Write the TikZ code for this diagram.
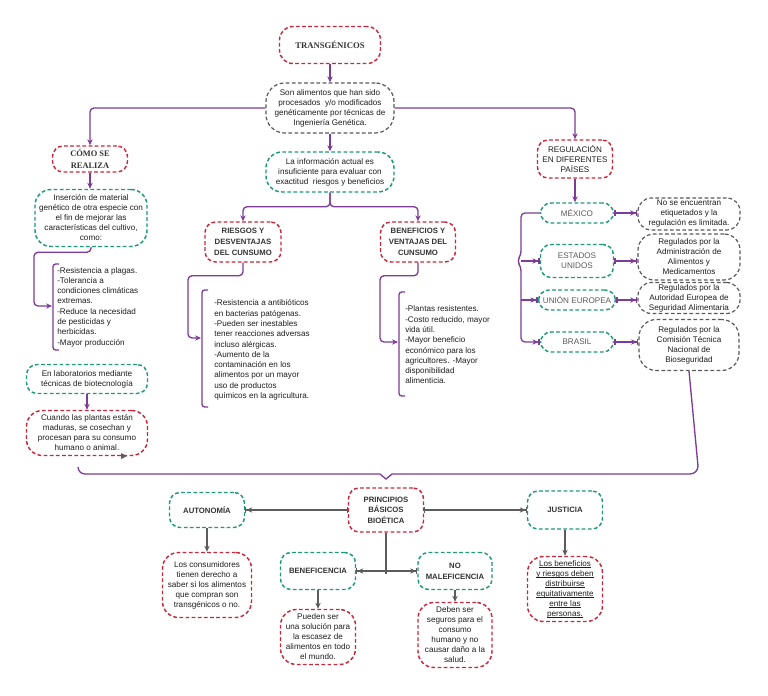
\documentclass[tikz,border=0pt]{standalone}
\usepackage{fontspec}
\setmainfont{Liberation Sans}
\newfontfamily\serifb{Liberation Serif}
\usetikzlibrary{arrows.meta,calc}
\definecolor{cred}{HTML}{C8283C}
\definecolor{cgreen}{HTML}{1E9A78}
\definecolor{cgray}{HTML}{5A5A5A}
\definecolor{cpurple}{HTML}{7D3C98}
\definecolor{garr}{HTML}{5C5C5C}
\definecolor{txt}{HTML}{1E1E1E}
\definecolor{hdtxt}{HTML}{333333}
\newcommand\ulx[1]{\leavevmode\setbox0\hbox{#1}\rlap{\vrule width\wd0 height -0.6pt depth 1.0pt}\box0}
\begin{document}
\begin{tikzpicture}[x=0.75pt,y=-0.75pt,
  box/.style={draw, rounded corners=8pt, line width=1.1pt, dash pattern=on 2.8pt off 1.8pt,
    align=center, inner sep=0pt, font=\fontsize{6.1}{7.5}\selectfont, text=txt},
  redb/.style={box, draw=cred},
  greenb/.style={box, draw=cgreen},
  grayb/.style={box, draw=cgray, line width=0.9pt},
  hd/.style={font=\bfseries\fontsize{5.8}{8}\selectfont, text=hdtxt},
  sz/.style 2 args={minimum width=#1*0.75pt, minimum height=#2*0.75pt},
  lst/.style={align=left, inner sep=0pt, font=\fontsize{6.1}{7.7}\selectfont, text=txt},
  pline/.style={draw=cpurple, line width=1pt, rounded corners=3pt},
  parrow/.style={pline, -{Stealth[length=4.5pt,width=4pt]}},
  carrow/.style={pline, {Bar[width=4pt]}-{Stealth[length=4.5pt,width=4pt] Bar[width=4pt]}},
  gline/.style={draw=garr, line width=0.8pt},
  garrow/.style={gline, {Bar[width=4pt]}-{Stealth[length=4.5pt,width=4pt] Bar[width=4pt]}},
  gdown/.style={gline, -{Stealth[length=4.5pt,width=4pt]}}
]
\useasboundingbox[fill=white] (0,0) rectangle (768,696);

% top
\node[redb, sz={101}{37}, rounded corners=10pt, font=\serifb\bfseries\fontsize{6.5}{8}\selectfont, text=hdtxt] (T) at (330,45) {TRANSGÉNICOS};
\node[grayb, sz={128}{50}, rounded corners=14pt] (A) at (330,108) {Son alimentos que han sido\\procesados \ y/o modificados\\genéticamente por técnicas de\\Ingeniería Genética.};
\node[greenb, sz={128}{40}, rounded corners=12pt] (F) at (330,172) {La información actual es\\insuficiente para evaluar con\\exactitud \ riesgos y beneficios};

% left column
\node[redb, sz={75}{26}, font=\serifb\bfseries\fontsize{6.3}{8.5}\selectfont, text=hdtxt] (C) at (90,159) {CÓMO SE\\REALIZA};
\node[greenb, sz={112}{57}, rounded corners=12pt] (I) at (91,218) {Inserción de material\\genético de otra especie con\\el fin de mejorar las\\características del cultivo,\\como:};
\node[lst, anchor=west] (X1) at (57,307) {-Resistencia a plagas.\\-Tolerancia a\\condiciones climáticas\\extremas.\\-Reduce la necesidad\\de pesticidas y\\herbicidas.\\-Mayor producción};
\node[greenb, sz={121}{29}] (L) at (87,379) {En laboratorios mediante\\técnicas de biotecnología};
\node[redb, sz={121}{45}, rounded corners=12pt] (Q) at (87,433) {Cuando las plantas están\\maduras, se cosechan y\\procesan para su consumo\\humano o animal.};

% middle
\node[redb, sz={76}{40}, hd] (R) at (243,242) {RIESGOS Y\\DESVENTAJAS\\DEL CUNSUMO};
\node[redb, sz={75}{40}, hd] (B) at (418,242) {BENEFICIOS Y\\VENTAJAS DEL\\CUNSUMO};
\node[lst, anchor=west] (X2) at (214,350) {-Resistencia a antibióticos\\en bacterias patógenas.\\-Pueden ser inestables\\tener reacciones adversas\\incluso alérgicas.\\-Aumento de la\\contaminación en los\\alimentos por un mayor\\uso de productos\\químicos en la agricultura.};
\node[lst, anchor=west] (X3) at (405,345) {-Plantas resistentes.\\-Costo reducido, mayor\\vida útil.\\-Mayor beneficio\\económico para los\\agricultores. -Mayor\\disponibilidad\\alimenticia.};

% right
\node[redb, sz={75}{38}] (G) at (575,159) {REGULACIÓN\\EN DIFERENTES\\PAÍSES};
\node[greenb, sz={73}{20}, text=cgray] (MX) at (577,213) {MÉXICO};
\node[greenb, sz={73}{33}, text=cgray] (US) at (577,261) {ESTADOS\\UNIDOS};
\node[greenb, sz={77}{20}, text=cgray] (EU) at (577,300) {UNIÓN EUROPEA};
\node[greenb, sz={73}{20}, text=cgray] (BR) at (577,342) {BRASIL};
\node[grayb, sz={102}{32}, rounded corners=10pt] (R1) at (689,214) {No se encuentran\\etiquetados y la\\regulación es limitada.};
\node[grayb, sz={102}{46}, rounded corners=12pt] (R2) at (689,257) {Regulados por la\\Administración de\\Alimentos y\\Medicamentos};
\node[grayb, sz={102}{31}, rounded corners=10pt] (R3) at (689,298) {Regulados por la\\Autoridad Europea de\\Seguridad Alimentaria};
\node[grayb, sz={100}{51}, rounded corners=13pt] (R4) at (689,345) {Regulados por la\\Comisión Técnica\\Nacional de\\Bioseguridad};

% bottom
\node[redb, sz={75}{44}, hd] (P) at (386,510) {PRINCIPIOS\\BÁSICOS\\BIOÉTICA};
\node[greenb, sz={75}{35}, hd] (AU) at (207,510) {AUTONOMÍA};
\node[greenb, sz={75}{38}, hd] (JU) at (565,510) {JUSTICIA};
\node[greenb, sz={75}{37}, hd] (BE) at (318,571) {BENEFICENCIA};
\node[greenb, sz={74}{37}, hd] (NM) at (455,571) {NO\\MALEFICENCIA};
\node[redb, sz={89}{65}, rounded corners=12pt] (D1) at (207,585) {Los consumidores\\tienen derecho a\\saber si los alimentos\\que compran son\\transgénicos o no.};
\node[redb, sz={75}{55}, rounded corners=12pt] (D2) at (318,637) {Pueden ser\\una solución para\\la escasez de\\alimentos en todo\\el mundo.};
\node[redb, sz={74}{65}, rounded corners=12pt] (D3) at (455,635) {Deben ser\\seguros para el\\consumo\\humano y no\\causar daño a la\\salud.};
\node[redb, sz={75}{65}, rounded corners=12pt] (D4) at (565,589) {\ulx{Los beneficios}\\\ulx{y riesgos deben}\\\ulx{distribuirse}\\\ulx{equitativamente}\\\ulx{entre las}\\\ulx{personas.}};

% purple connectors
\draw[parrow] (T) -- (A);
\draw[parrow] (A) -- (F);
\draw[parrow] (A.west) -| (C.north);
\draw[parrow] (A.east) -| (G.north);
\draw[parrow] (C.south) -- (C.south |- I.north);
\draw[parrow] (F.south) -- ++(0,14) -| (R.north);
\draw[parrow] (F.south) -- ++(0,14) -| (B.north);
\coordinate (k1) at (52,306);
\draw[parrow] (I.south) -- ++(0,5) -| (34,290) |- (k1);
\coordinate (k2) at (201,338);
\draw[parrow] (R.south) -- ++(0,13) -| (188,300) |- (k2);
\coordinate (k3) at (398,342);
\draw[parrow] (B.south) -- ++(0,13) -| (380,300) |- (k3);
\draw[parrow] (L) -- (Q);
\draw[parrow] (G.south) -- (G.south |- MX.north);

% list brackets
\draw[pline, rounded corners=2pt] (59,264) -- (53,264) -- (53,350) -- (59,350);
\draw[pline, rounded corners=2pt] (208,290) -- (202,290) -- (202,407) -- (208,407);
\draw[pline, rounded corners=2pt] (405,292) -- (399,292) -- (399,396) -- (405,396);

% country brace
\draw[pline, -{Stealth[length=4.5pt,width=4pt] Bar[width=4pt]}] (MX.west) -- (521,213) -- (521,255) -- (517,261) -- (521,267) -- (521,342) -- (BR.west);
\draw[pline, -{Stealth[length=4.5pt,width=4pt] Bar[width=4pt]}] (521,261) -- (US.west);
\draw[pline, -{Stealth[length=4.5pt,width=4pt] Bar[width=4pt]}] (521,300) -- (EU.west);
\draw[carrow] (MX.east) -- (MX.east -| R1.west);
\draw[carrow] (US.east) -- (US.east -| R2.west);
\draw[carrow] (EU.east) -- (EU.east -| R3.west);
\draw[carrow] (BR.east) -- (BR.east -| R4.west);

% bottom brace
\draw[pline, rounded corners=0pt] (R4.south) -- (698,466) to[out=-90,in=0] (690,474) -- (392,474) -- (386,479) -- (380,474) -- (85,474) to[out=180,in=-90] (78,467);

% small gray tip
\fill[garr] (121,453) -- (127,456) -- (121,459) -- cycle;

% gray connectors
\draw[garrow] (P.west) -- (AU.east);
\draw[garrow] (P.east) -- (JU.west);
\coordinate (jn) at (386,571);
\draw[gline] (P.south) -- (jn);
\draw[garrow] (jn) -- (BE.east);
\draw[garrow] (jn) -- (NM.west);
\draw[gdown] (AU) -- (D1);
\draw[gdown] (BE) -- (D2);
\draw[gdown] (NM) -- (D3);
\draw[gdown] (JU) -- (D4);
\end{tikzpicture}
\end{document}
